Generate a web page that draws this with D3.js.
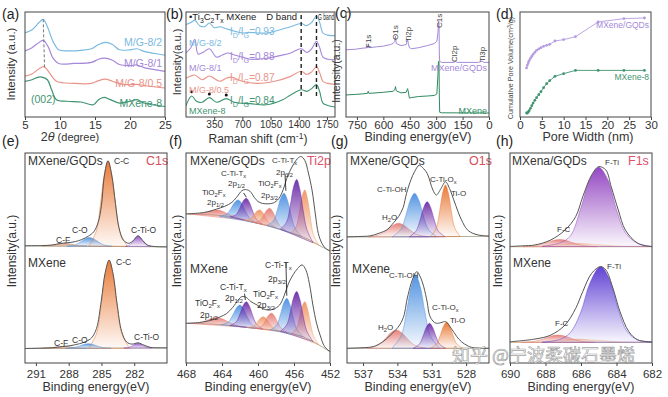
<!DOCTYPE html>
<html><head><meta charset="utf-8">
<script src="https://cdn.jsdelivr.net/npm/d3@7"></script>
<style>body{margin:0;background:#fff}svg{display:block}</style>
</head><body><div id="chart"></div>
<script>
const FONT = '"Liberation Sans", Arial, sans-serif';

// ---------- (a) XRD, [2theta, stacked intensity] ----------
const xrdMG82 = [[5,80],[6,83],[7,90],[7.6,93],[8.2,86],[9,72],[9.8,64],[11,63],[13,63.5],[14.5,65],[15.5,69],[16.5,71],[17.5,69],[18.5,64],[20,64],[21,65],[22,62.5],[25,59]];
const xrdMG81 = [[5,63],[6,66],[7,71],[7.6,73],[8.3,67],[9,56],[9.8,51],[12,51],[14.5,52],[15.5,55],[16.4,56],[17.5,54],[18.5,50],[20,49],[21,49.5],[22,47],[25,43.5]];
const xrdMG805 = [[5,39],[6,41],[7,46],[7.7,48],[8.5,42],[9.5,34],[12,32],[14.5,32],[15.5,34.6],[16.5,36],[17.5,34],[19,31],[21,31],[22,30],[25,27.6]];
const xrdMX8 = [[5,34],[6,35.5],[6.8,37.8],[7.4,38],[8.2,35.5],[8.8,26],[9.5,16.5],[11,15],[13,14.3],[14.8,11.7],[15.5,16.5],[16.3,18.7],[17.2,16.5],[18.5,13.3],[20,15],[21,16.5],[22,13.3],[25,10]];
const xrdTicks = [5,10,15,20,25];

// ---------- (b) Raman, [cm-1, stacked intensity] ----------
const ramMG82 = [[0,88],[60,90],[110,92],[170,87],[230,86],[290,89.5],[350,85],[420,86],[500,84],[570,82.5],[640,81],[700,80],[780,80.6],[900,80],[1000,80],[1100,81.6],[1200,83.8],[1300,86],[1430,89],[1500,87],[1560,90],[1620,96],[1660,90],[1700,80],[1760,78],[1850,77.5]];
const ramMG81 = [[0,61],[60,66],[110,74],[150,60],[220,62],[290,65],[380,57],[450,59],[520,61],[600,59],[700,57],[800,55],[1000,56],[1200,59],[1300,61],[1430,65],[1500,61.5],[1560,65],[1620,72],[1660,66],[1700,57],[1760,55],[1850,54.6]];
const ramMG805 = [[0,37],[60,39],[110,40],[200,35.5],[290,39],[420,34],[500,37],[560,38],[700,34],[900,32],[1100,34],[1300,38.7],[1430,43.5],[1500,40.5],[1560,43],[1620,48],[1660,42],[1700,34],[1760,32],[1850,31]];
const ramMX8 = [[0,10.8],[70,20],[130,15],[200,14],[290,18.5],[380,14],[500,17.5],[600,14],[800,12.7],[1000,11.7],[1200,16.5],[1300,21],[1430,26],[1500,24.4],[1560,27],[1620,30.8],[1660,24],[1700,13.3],[1760,11],[1850,9.5]];
const ramDots = [[70,24],[290,22],[500,21]];
const ramBands = [1430, 1620];
const ramRatios = ["0.93","0.88","0.87","0.84"];
const ramTicks = [350,700,1050,1400,1750];

// ---------- (c) XPS survey, [eV, stacked intensity] ----------
const svGQD = [[812,64],[760,64.5],[720,65.5],[690,66],[686,69],[682,66],[640,66.8],[600,67.5],[560,69],[545,70],[535,72],[531,77],[527,70],[500,68],[470,69],[462,74],[458,70],[452,66],[440,65],[400,66],[350,68],[310,70],[296,72],[290,80],[287,91],[284,91],[282,60],[280,53],[270,52],[200,52],[190,53],[180,52],[60,52],[40,53.2],[30,52],[0,52]];
const svMX = [[812,21],[760,21.5],[720,22],[690,22.5],[686,24.5],[682,22.5],[600,23.5],[545,24.5],[535,26],[531,29],[527,25],[500,23],[470,23.5],[462,27],[458,24],[452,18],[440,18.5],[400,19.5],[350,20],[310,20.5],[296,22],[290,40],[287,53],[284,53],[282,20],[280,4.5],[270,4],[0,3.8]];
const svLines = [["F1s",686,48],["O1s",531,40],["Ti2p",460,42],["C1s",285,28],["Cl2p",200,62],["Ti3p",37,62]];
const svTicks = [750,600,450,300,150,0];

// ---------- (d) pore volume ----------
const poreX = [1.5,1.7,1.9,2.1,2.4,2.7,3.0,3.4,3.8,4.3,4.8,5.4,6.1,6.8,8.0,10.0,12.7,17.9,23.8,28.5];
const poreGQD = [0.467,0.495,0.517,0.537,0.559,0.578,0.597,0.616,0.635,0.648,0.660,0.673,0.683,0.692,0.724,0.737,0.765,0.905,0.937,0.943];
const poreMX8 = [0.038,0.038,0.048,0.060,0.083,0.108,0.133,0.159,0.184,0.213,0.241,0.279,0.317,0.346,0.387,0.413,0.444,0.444,0.444,0.444];
const poreTicks = [0,5,10,15,20,25,30];

// ---------- (e) C1s ----------
const c1sTicks = [291,288,285,282];
const c1sTopEnv = [[292,55.8],[290.5,55.9],[289.5,56.2],[288.8,56.9],[288.2,57.2],[287.4,57.8],[286.8,58.8],[286.2,60.4],[285.7,62.5],[285.3,67],[285.0,75],[284.74,89],[284.4,96.3],[284.06,89.5],[283.72,76],[283.4,64.5],[283.0,58.5],[282.5,57],[282.1,58.2],[281.65,60.6],[281.2,58.2],[280.8,56.2],[280.2,55.5],[279,55.3]];
const c1sTopBg = [[292,55.8],[279,55.3]];
const c1sTopCC = [[286.17,55.6],[285.49,62.5],[285.08,76],[284.74,89.8],[284.4,96.3],[284.06,89.8],[283.72,76],[283.31,62.5],[282.63,55.6]];
const c1sTopCO = [[288.18,55.6],[287.38,56.3],[286.9,57.7],[286.5,59.1],[286.1,59.8],[285.7,59.1],[285.3,57.7],[284.82,56.3],[284.02,55.6]];
const c1sTopCF = [[290.48,55.7],[289.68,55.9],[289.2,56.35],[288.8,56.8],[288.4,57],[288,56.8],[287.6,56.35],[287.12,55.9],[286.32,55.7]];
const c1sTopCTiO = [[282.82,55.5],[282.37,56.35],[282.1,58],[281.87,59.7],[281.65,60.5],[281.43,59.7],[281.2,58],[280.93,56.35],[280.48,55.5]];
const c1sBotEnv = [[292,6.9],[290.5,7.1],[289.5,7.3],[288.6,7.8],[287.8,8.3],[287,9.2],[286.4,10.3],[285.9,12],[285.45,16.5],[285.02,29.5],[284.66,43],[284.3,49],[283.94,42.5],[283.58,28.5],[283.15,15],[282.7,10],[282.2,9],[281.65,9.6],[281.1,8.5],[280.5,7.4],[279.5,7.2],[279,7.2]];
const c1sBotBg = [[292,6.9],[279,7.2]];
const c1sBotCC = [[286.17,7],[285.45,14.1],[285.02,28],[284.66,42.3],[284.3,49],[283.94,42.3],[283.58,28],[283.15,14.1],[282.43,7]];
const c1sBotCO = [[288.28,7],[287.48,7.4],[287,8.1],[286.6,8.85],[286.2,9.2],[285.8,8.85],[285.4,8.1],[284.92,7.4],[284.12,7]];
const c1sBotCF = [[290.48,7],[289.68,7.15],[289.2,7.45],[288.8,7.75],[288.4,7.9],[288,7.75],[287.6,7.45],[287.12,7.15],[286.32,7]];
const c1sBotCTiO = [[282.95,7.1],[282.45,7.5],[282.15,8.25],[281.9,9.03],[281.65,9.4],[281.4,9.03],[281.15,8.25],[280.85,7.5],[280.35,7.1]];

// ---------- (f) Ti2p ----------
const ti2pTicks = [468,464,460,456,452];
const ti2pTopEnv = [[468,71],[466.5,71.4],[465.6,72],[464.6,73.3],[463.7,74.6],[462.9,76.5],[462.4,78.8],[461.8,82],[461.4,82.6],[460.9,81.8],[460.4,78.8],[460,76.9],[459.5,76],[458.9,75.8],[458.3,76.2],[457.7,78.2],[457.2,82.5],[456.8,88],[456.1,94.3],[455.5,97.8],[455.2,98.3],[454.8,96.5],[454.4,90.5],[454,82.4],[453.6,70],[453.3,61.7],[452.9,57],[452.5,54.6],[452,53.3]];
const ti2pTopBg = [[468,71],[465,70.5],[463,69.5],[461,67.5],[459,65.5],[457,63],[455,60],[454,58],[453,55.5],[452,53.5]];
const ti2pTop = [
  [[[467.62,70.9],[466.42,71.1],[465.7,71.9],[465.1,72.6],[464.5,72.9],[463.9,72.2],[463.3,70.9],[462.58,69.5],[461.38,68.0]], "salmon"],
  [[[464.28,69.9],[463.48,70.9],[463,73.6],[462.6,76.4],[462.2,77.6],[461.8,75.8],[461.4,72.4],[460.92,68.9],[460.12,66.6]], "blue"],
  [[[463.12,69.6],[462.42,70.7],[462,73.9],[461.65,77.1],[461.3,78.5],[460.95,76.4],[460.6,72.4],[460.18,68.5],[459.48,66]], "purple"],
  [[[461.62,68.1],[460.92,68.5],[460.5,70.3],[460.15,72.2],[459.8,72.9],[459.45,71.5],[459.1,68.9],[458.68,66.3],[457.98,64.5]], "peach"],
  [[[460.52,67],[459.82,67.75],[459.4,70.15],[459.05,72.6],[458.7,73.7],[458.35,71.9],[458,68.65],[457.58,65.35],[456.88,63]], "salmon"],
  [[[459.05,65.5],[458.3,67.7],[457.85,72.95],[457.475,78.5],[457.1,80.8],[456.725,77.5],[456.35,70.85],[455.9,64.3],[455.15,60.2]], "blue"],
  [[[456.36,62],[455.76,65],[455.4,72],[455.1,79.4],[454.8,82.4],[454.5,78.2],[454.2,69.8],[453.84,61],[453.24,56.1]], "peach"],
  [[[457.52,63.7],[456.82,67.2],[456.4,75.3],[456.05,83.8],[455.7,87.4],[455.35,82.7],[455,73.2],[454.58,63.7],[453.88,57.2]], "purple"]
];
const ti2pBotEnv = [[468,18.9],[466.5,19.3],[465.1,20.5],[464.2,22],[463.5,23.5],[462.8,26.5],[462.2,30],[461.8,31.6],[461.3,31.2],[460.8,29.3],[460.1,27.6],[459.4,25.8],[458.9,25.2],[458.3,25.6],[457.6,27.6],[457.1,32],[456.6,38],[456.1,42],[455.6,45],[455.1,46.7],[454.7,44.5],[454.3,38],[453.9,27.6],[453.5,19],[453.1,13.3],[452.6,7.8],[452,5.4]];
const ti2pBotBg = [[468,18.9],[465,18.5],[463,17.8],[461,16.8],[459,16],[457,14.8],[455,12.5],[454,10.5],[453,8],[452,5.4]];
const ti2pBot = [
  [[[467.62,18.85],[466.42,19.26],[465.7,20.25],[465.1,21.3],[464.5,21.6],[463.9,20.9],[463.3,19.55],[462.58,18.16],[461.38,17]], "salmon"],
  [[[464.08,18.2],[463.28,19.65],[462.8,22.85],[462.4,26.15],[462,27.6],[461.6,25.75],[461.2,22.05],[460.72,18.45],[459.92,16.4]], "blue"],
  [[[463.12,17.85],[462.42,19.6],[462,23.4],[461.65,27.35],[461.3,29.2],[460.95,27.05],[460.6,22.7],[460.18,18.6],[459.48,16.2]], "purple"],
  [[[461.22,16.9],[460.52,17.6],[460.1,19.3],[459.75,21.2],[459.4,22],[459.05,20.85],[458.7,18.7],[458.28,16.6],[457.58,15.15]], "peach"],
  [[[460.32,16.5],[459.62,17.55],[459.2,20],[458.85,22.6],[458.5,23.7],[458.15,22.2],[457.8,19.3],[457.38,16.35],[456.68,14.4]], "salmon"],
  [[[458.62,15.8],[457.92,18.15],[457.5,23.2],[457.15,28.5],[456.8,30.8],[456.45,27.8],[456.1,21.9],[455.68,16.05],[454.98,12.5]], "blue"],
  [[[456.36,13.9],[455.76,16.3],[455.4,21.45],[455.1,26.95],[454.8,29.2],[454.5,25.85],[454.2,19.45],[453.84,12.9],[453.24,8.6]], "peach"],
  [[[457.52,15.1],[456.82,18.1],[456.4,24.45],[456.05,31.1],[455.7,34],[455.35,30.3],[455,22.85],[454.58,15.2],[453.88,10.2]], "purple"]
];
// label pointer segments [eV, value] -> [eV, value]
const ti2pPointers = [[[461.6,81],[461.3,79]],[[457.0,90],[456.9,82]],[[461.5,33],[461.4,30]],[[456.9,48],[456.8,32]]];

// ---------- (g) O1s ----------
const o1sTicks = [537,534,531,528];
const o1sTopEnv = [[538.4,60.1],[537,60.3],[536.4,60.5],[535.6,61.8],[534.9,63.5],[534.3,67],[533.9,69.7],[533.5,74],[533.2,80.8],[532.8,87.5],[532.5,91.1],[532.1,94.2],[531.8,93],[531.4,90.3],[530.9,82.4],[530.6,80],[530.2,83],[529.8,86.3],[529.4,82.5],[529.1,78],[528.7,72],[528.4,68.1],[527.9,63.5],[527.3,61.5],[526.5,60.6],[526,60.5]];
const o1sTopBg = [[538.4,60],[526,60.3]];
const o1sTop = [
  [[[536.5,60.1],[535.5,61.2],[534.9,63.3],[534.4,65.5],[533.9,66.5],[533.4,65.5],[532.9,63.3],[532.3,61.2],[531.3,60.1]], "salmon"],
  [[[534.45,60.1],[533.7,63.6],[533.25,70.45],[532.875,77.5],[532.5,80.8],[532.125,77.5],[531.75,70.45],[531.3,63.6],[530.55,60.1]], "blue"],
  [[[532.96,60.1],[532.36,62.95],[532,68.45],[531.7,74.1],[531.4,76.8],[531.1,74.1],[530.8,68.45],[530.44,62.95],[529.84,60.1]], "purple"],
  [[[531.1,60.2],[530.6,64.4],[530.3,72.55],[530.05,80.95],[529.8,84.8],[529.55,80.95],[529.3,72.55],[529,64.4],[528.5,60.2]], "orange"]
];
const o1sBotEnv = [[538.4,7],[537,7.3],[536.1,7.8],[535.3,10],[534.6,13.3],[533.8,18.1],[533.4,23],[533.2,29.2],[532.9,36],[532.7,39.5],[532.3,43.5],[532,41],[531.7,36.3],[531.4,29],[531.2,22.9],[530.9,20],[530.6,18.9],[530.2,19.2],[529.8,19.7],[529.3,16.5],[528.8,12.5],[528.4,10.1],[527.9,8.3],[527.4,7.3],[526,7]];
const o1sBotBg = [[538.4,7],[526,7]];
const o1sBot = [
  [[[536.7,7],[535.7,8.5],[535.1,11.35],[534.6,14.3],[534.1,15.7],[533.6,14.3],[533.1,11.35],[532.5,8.5],[531.5,7]], "salmon"],
  [[[534.48,7],[533.68,12.9],[533.2,24.45],[532.8,36.3],[532.4,41.9],[532,36.3],[531.6,24.45],[531.12,12.9],[530.32,7]], "blue"],
  [[[532.63,7],[532.08,9],[531.75,12.95],[531.475,17],[531.2,18.9],[530.925,17],[530.65,12.95],[530.32,9],[529.77,7]], "purple"],
  [[[531.13,7],[530.58,9.1],[530.25,13.25],[529.975,17.5],[529.7,19.5],[529.425,17.5],[529.15,13.25],[528.82,9.1],[528.27,7]], "orange"]
];

// ---------- (h) F1s ----------
const f1sTicks = [690,688,686,684,682];
const f1sTopEnv = [[690,55.5],[689.3,55.8],[688.6,56.2],[687.7,58.6],[686.9,63.3],[686.3,69.7],[685.9,79.2],[685.4,89.5],[685.0,93.5],[684.6,91.9],[684.3,84],[683.9,72.9],[683.5,63.3],[682.8,57],[682,55.4]];
const f1sTopBg = [[690,55.4],[682,55.4]];
const f1sTop = [
  [[[690,55.4],[688.6,55.6],[687.7,56.2],[686.9,56.6],[686.2,57],[685.5,56.6],[684.7,56.2],[683.8,55.6],[682.3,55.4]], "cream"],
  [[[689.28,55.4],[688.48,56],[688,57.1],[687.6,58.25],[687.2,58.8],[686.8,58.25],[686.4,57.1],[685.92,56],[685.12,55.4]], "salmon"],
  [[[688.2,55.5],[687.2,57.2],[686.6,60.5],[686.0,74],[685.5,87.5],[685.0,93.2],[684.5,87.5],[684.0,73],[683.5,62],[682.8,57],[682,55.5]], "mauve"]
];
const f1sBotEnv = [[690,10.1],[688.6,11.4],[687.7,13.3],[686.9,18.1],[686.3,26],[685.9,34],[685.4,42.7],[684.9,45.9],[684.6,44.3],[684.2,35.6],[683.8,24.4],[683.3,14.9],[682.8,11],[682,10.1]];
const f1sBotBg = [[690,9.8],[682,9.8]];
const f1sBot = [
  [[[690,9.8],[688.6,10],[687.7,10.6],[686.9,11],[686.2,11.4],[685.5,11],[684.7,10.6],[683.8,10],[682.3,9.8]], "cream"],
  [[[689.38,9.8],[688.58,10.4],[688.1,11.55],[687.7,12.75],[687.3,13.3],[686.9,12.75],[686.5,11.55],[686.02,10.4],[685.22,9.8]], "salmon"],
  [[[688.2,9.9],[687.2,11.2],[686.6,14.5],[686.0,24.5],[685.5,38],[684.9,45.9],[684.4,40],[683.9,25.5],[683.4,15],[682.8,11],[682,9.9]], "violet"]
];

// ---------- drawing ----------
const COL = {
  orange: "#e8742f", blue: "#4a8fe0", purple: "#6a2aa6", salmon: "#e57a72",
  peach: "#ef9460", cream: "#f2c49a", mauve: "#8f3fbf", violet: "#5a3ad2",
  brown: "#c9805a", lilac: "#8d4cc2"
};
const svg = d3.select("#chart").append("svg")
  .attr("width", 668).attr("height", 397)
  .style("font-family", FONT);
const defs = svg.append("defs");
Object.entries(COL).forEach(([k, c]) => {
  const gr = defs.append("linearGradient").attr("id", "g-" + k)
    .attr("x1", 0).attr("y1", 0).attr("x2", 0).attr("y2", 1);
  gr.append("stop").attr("offset", "0%").attr("stop-color", c).attr("stop-opacity", 0.95);
  gr.append("stop").attr("offset", "100%").attr("stop-color", c).attr("stop-opacity", 0.04);
});

// text with _x / ^x / _{..} sub- and superscripts
function rich(g, x, y, str, o = {}) {
  const size = o.size || 9;
  const t = g.append("text").attr("x", x).attr("y", y)
    .attr("font-size", size).attr("fill", o.color || "#333")
    .attr("text-anchor", o.anchor || "start");
  if (o.rotate) t.attr("transform", `rotate(-90,${x},${y})`);
  let shift = 0;
  str.split(/(_\{[^}]*\}|\^\{[^}]*\}|_[^{]|\^[^{])/).forEach(tok => {
    if (!tok) return;
    let s = 0, txt = tok;
    if (tok[0] === "_" || tok[0] === "^") {
      s = tok[0] === "_" ? size * 0.28 : -size * 0.3;
      txt = tok[1] === "{" ? tok.slice(2, -1) : tok.slice(1);
    }
    const ts = t.append("tspan").text(txt).attr("dy", s - shift);
    if (s) ts.attr("font-size", size * 0.72);
    shift = s;
  });
  return t;
}

function makePanel(name, box, xDom, yDom) {
  const x = d3.scaleLinear().domain(xDom).range([box.l, box.r]);
  const y = d3.scaleLinear().domain(yDom).range([box.b, box.t]);
  defs.append("clipPath").attr("id", "clip-" + name).append("rect")
    .attr("x", box.l).attr("y", box.t).attr("width", box.r - box.l).attr("height", box.b - box.t);
  const g = svg.append("g");
  const plot = g.append("g").attr("clip-path", `url(#clip-${name})`);
  const line = d3.line().x(d => x(d[0])).y(d => y(d[1])).curve(d3.curveCatmullRom);
  return { g, plot, x, y, box, line };
}

function finish(p, ticks, pad, tickSize = 11.5) {
  p.g.append("rect").attr("x", p.box.l).attr("y", p.box.t)
    .attr("width", p.box.r - p.box.l).attr("height", p.box.b - p.box.t)
    .attr("fill", "none").attr("stroke", "#444").attr("stroke-width", 1);
  const ax = p.g.append("g").attr("transform", `translate(0,${p.box.b})`)
    .call(d3.axisBottom(p.x).tickValues(ticks).tickSize(3).tickPadding(pad).tickFormat(d3.format("d")));
  ax.attr("font-family", FONT);
  ax.select(".domain").remove();
  ax.selectAll("line").attr("stroke", "#444");
  ax.selectAll("text").attr("font-size", tickSize).attr("fill", "#333");
}

function curve(p, pts, color, w = 1) {
  p.plot.append("path").attr("d", p.line(pts)).attr("fill", "none")
    .attr("stroke", color).attr("stroke-width", w);
}

function peaks(p, list) {
  list.forEach(([pts, key]) => {
    p.plot.append("path").attr("d", p.line(pts) + "Z")
      .attr("fill", `url(#g-${key})`).attr("stroke", COL[key])
      .attr("stroke-width", 0.6).attr("stroke-opacity", 0.8);
  });
}

function spectrum(p, bg, comps, env) {
  curve(p, bg, "#9a9a80", 0.8);
  peaks(p, comps);
  curve(p, env, "#555", 1);
}

// panel letters
[["(a)", 2, 19], ["(b)", 166, 19], ["(c)", 335, 18], ["(d)", 496, 19],
 ["(e)", 2, 146], ["(f)", 169, 146], ["(g)", 331, 146], ["(h)", 496, 146]]
  .forEach(([s, x, y]) => svg.append("text").attr("x", x).attr("y", y)
    .attr("font-size", 14).attr("fill", "#222").text(s));

// ---- (a) ----
const pa = makePanel("a", { l: 25, r: 165, t: 12, b: 117 }, [5, 25], [0, 100]);
[[xrdMG82, "#79b9df"], [xrdMG81, "#a688d9"], [xrdMG805, "#e9948a"], [xrdMX8, "#3f9471"]]
  .forEach(([d, c]) => curve(pa, d, c, 1.2));
pa.plot.append("line").attr("x1", pa.x(7.6)).attr("y1", pa.y(93)).attr("x2", pa.x(7.8)).attr("y2", pa.y(47))
  .attr("stroke", "#777").attr("stroke-dasharray", "3,2");
[["M/G-8/2", 46, "#79b9df"], ["M/G-8/1", 67, "#a688d9"], ["M/G-8/0.5", 87, "#e9948a"], ["MXene-8", 107, "#3f9471"]]
  .forEach(([s, y, c]) => rich(pa.g, 162, y, s, { size: 10.5, color: c, anchor: "end" }));
rich(pa.g, 31, 103, "(002)", { size: 10.5, color: "#3f9471" });
finish(pa, xrdTicks, 1);
rich(svg, 15, 64, "Intensity (a.u.)", { size: 11.5, rotate: true, anchor: "middle" });
const ta = svg.append("text").attr("x", 70).attr("y", 141).attr("text-anchor", "middle")
  .attr("font-size", 12.5).attr("fill", "#333");
ta.append("tspan").text("2");
ta.append("tspan").text("θ").attr("font-style", "italic");
ta.append("tspan").text(" (degree)").attr("font-size", 11);

// ---- (b) ----
const pb = makePanel("b", { l: 186, r: 335, t: 12, b: 117 }, [0, 1850], [0, 100]);
[[ramMG82, "#79b9df"], [ramMG81, "#a688d9"], [ramMG805, "#e9948a"], [ramMX8, "#3f9471"]]
  .forEach(([d, c]) => curve(pb, d, c, 1.1));
ramBands.forEach(b => pb.plot.append("line").attr("x1", pb.x(b)).attr("x2", pb.x(b))
  .attr("y1", 15).attr("y2", 96).attr("stroke", "#222").attr("stroke-width", 1.4).attr("stroke-dasharray", "4,3"));
pb.plot.selectAll("circle.rd").data(ramDots).join("circle").attr("class", "rd")
  .attr("cx", d => pb.x(d[0])).attr("cy", d => pb.y(d[1])).attr("r", 1.5).attr("fill", "#111");
rich(pb.g, 189, 20, "\u2022Ti_3C_2T_x MXene", { size: 9.5, color: "#222" });
rich(pb.g, 297, 20, "D band", { size: 9.5, color: "#222", anchor: "end" });
// narrow "G band" squeezed between the G line and the frame edge
pb.g.append("g").attr("transform", "translate(318,20) scale(0.55,1)")
  .append("text").attr("font-size", 9).attr("fill", "#222").text("G band");
[["M/G-8/2", 46, "#79b9df"], ["M/G-8/1", 71, "#a688d9"], ["M/G-8/0.5", 93, "#e9948a"], ["MXene-8", 114, "#3f9471"]]
  .forEach(([s, y, c]) => rich(pb.g, 189, y, s, { size: 9, color: c }));
[[35, "#79b9df"], [60, "#a688d9"], [81, "#e9948a"], [104, "#3f9471"]]
  .forEach(([y, c], i) => rich(pb.g, 230, y, "I_D/I_G=" + ramRatios[i], { size: 10, color: c }));
finish(pb, ramTicks, 1, 10);
rich(svg, 181, 62, "Intensity(a.u.)", { size: 11, rotate: true, anchor: "middle" });
rich(svg, 258, 143, "Raman shift (cm^{-1})", { size: 12, anchor: "middle" });

// ---- (c) ----
const pc = makePanel("c", { l: 346, r: 489, t: 12, b: 117 }, [812, 0], [0, 100]);
pc.line.curve(d3.curveLinear);
curve(pc, svGQD, "#a58ad8", 1);
curve(pc, svMX, "#2f8a60", 1);
svLines.forEach(([s, e, y]) => rich(pc.g, pc.x(e) + 3, y, s, { size: 8, rotate: true, color: "#444" }));
rich(pc.g, 487, 71, "MXene/GQDs", { size: 9, color: "#a58ad8", anchor: "end" });
rich(pc.g, 487, 114, "MXene", { size: 9, color: "#2f8a60", anchor: "end" });
finish(pc, svTicks, 1);
rich(svg, 340, 71, "Intensity(a.u.)", { size: 10.5, rotate: true, anchor: "middle" });
rich(svg, 418, 141, "Binding energy(eV)", { size: 12.5, anchor: "middle" });

// ---- (d) ----
const pd = makePanel("d", { l: 520, r: 651, t: 12, b: 117 }, [0, 30], [0, 1]);
pd.line.curve(d3.curveLinear);
[[poreGQD, "#b49be0"], [poreMX8, "#3f9471"]].forEach(([vals, c]) => {
  const pts = poreX.map((v, i) => [v, vals[i]]);
  curve(pd, pts, c, 0.9);
  pd.plot.selectAll(null).data(pts).join("circle")
    .attr("cx", d => pd.x(d[0])).attr("cy", d => pd.y(d[1])).attr("r", 1.4).attr("fill", c);
});
rich(pd.g, 649, 28, "MXene/GQDs", { size: 8.5, color: "#a58ad8", anchor: "end" });
rich(pd.g, 649, 80, "MXene-8", { size: 8.5, color: "#3f9471", anchor: "end" });
finish(pd, poreTicks, 1);
rich(svg, 513, 68, "Cumulative Pore Volume(cm^3/g)", { size: 7.2, rotate: true, anchor: "middle", color: "#444" });
rich(svg, 588, 141, "Pore Width (nm)", { size: 12.5, anchor: "middle" });

// ---- (e) C1s ----
const pe = makePanel("e", { l: 25, r: 167, t: 153, b: 363 }, [292, 279], [0, 100]);
spectrum(pe, c1sTopBg, [[c1sTopCF, "brown"], [c1sTopCO, "blue"], [c1sTopCC, "orange"], [c1sTopCTiO, "lilac"]], c1sTopEnv);
spectrum(pe, c1sBotBg, [[c1sBotCF, "brown"], [c1sBotCO, "blue"], [c1sBotCC, "orange"], [c1sBotCTiO, "lilac"]], c1sBotEnv);
rich(pe.g, 28, 165, "MXene/GQDs", { size: 12 });
rich(pe.g, 146, 165, "C1s", { size: 12.5, color: "#d6505a" });
[["C-C", 114, 164], ["C-O", 72, 233], ["C-F", 56, 243], ["C-Ti-O", 131, 233],
 ["C-C", 116, 265], ["C-F", 54, 346], ["C-O", 72, 343], ["C-Ti-O", 134, 340]]
  .forEach(([s, x, y]) => rich(pe.g, x, y, s, { size: 8.5 }));
rich(pe.g, 28, 267, "MXene", { size: 12 });
finish(pe, c1sTicks, 4);
rich(svg, 16, 251, "Intensity(a.u.)", { size: 12, rotate: true, anchor: "middle" });
rich(svg, 96, 391, "Binding energy(eV)", { size: 12.5, anchor: "middle" });

// ---- (f) Ti2p ----
const pf = makePanel("f", { l: 186, r: 330, t: 153, b: 363 }, [468, 452], [0, 100]);
spectrum(pf, ti2pTopBg, ti2pTop, ti2pTopEnv);
spectrum(pf, ti2pBotBg, ti2pBot, ti2pBotEnv);
ti2pPointers.forEach(([a, b]) => pf.plot.append("line")
  .attr("x1", pf.x(a[0])).attr("y1", pf.y(a[1])).attr("x2", pf.x(b[0])).attr("y2", pf.y(b[1]))
  .attr("stroke", "#111").attr("stroke-width", 0.8));
rich(pf.g, 190, 165, "MXene/GQDs", { size: 12 });
rich(pf.g, 307, 165, "Ti2p", { size: 12.5, color: "#e0506a" });
[["C-Ti-T_x", 272, 163], ["2p_{3/2}", 276, 175], ["C-Ti-T_x", 221, 176], ["2p_{1/2}", 228, 186],
 ["TiO_2F_x", 202, 195], ["2p_{1/2}", 207, 205], ["TiO_2F_x", 258, 186], ["2p_{3/2}", 261, 198]]
  .forEach(([s, x, y]) => rich(pf.g, x, y, s, { size: 8 }));
rich(pf.g, 190, 273, "MXene", { size: 12 });
[["C-Ti-T_x", 265, 268], ["2p_{3/2}", 268, 282], ["C-Ti-T_x", 220, 290], ["2p_{1/2}", 225, 301],
 ["TiO_2F_x", 195, 306], ["2p_{1/2}", 200, 318], ["TiO_2F_x", 253, 297], ["2p_{3/2}", 257, 308]]
  .forEach(([s, x, y]) => rich(pf.g, x, y, s, { size: 8.5 }));
finish(pf, ti2pTicks, 4);
rich(svg, 181, 251, "Intensity(a.u.)", { size: 12, rotate: true, anchor: "middle" });
rich(svg, 258, 391, "Binding energy(eV)", { size: 12.5, anchor: "middle" });

// ---- (g) O1s ----
const pg = makePanel("g", { l: 347, r: 489, t: 153, b: 363 }, [538.4, 526], [0, 100]);
spectrum(pg, o1sTopBg, o1sTop, o1sTopEnv);
spectrum(pg, o1sBotBg, o1sBot, o1sBotEnv);
rich(pg.g, 350, 165, "MXene/GQDs", { size: 12 });
rich(pg.g, 469, 165, "O1s", { size: 12.5, color: "#d6505a" });
[["C-Ti-OH", 377, 192], ["C-Ti-O_x", 430, 182], ["Ti-O", 451, 196], ["H_2O", 382, 220],
 ["C-Ti-OH", 389, 278], ["C-Ti-O_x", 432, 310], ["Ti-O", 450, 323], ["H_2O", 378, 330]]
  .forEach(([s, x, y]) => rich(pg.g, x, y, s, { size: 8 }));
rich(pg.g, 352, 273, "MXene", { size: 12 });
finish(pg, o1sTicks, 4);
rich(svg, 340, 251, "Intensity(a.u.)", { size: 12, rotate: true, anchor: "middle" });
rich(svg, 418, 391, "Binding energy(eV)", { size: 12.5, anchor: "middle" });

// ---- (h) F1s ----
const ph = makePanel("h", { l: 510, r: 652, t: 153, b: 363 }, [690, 682], [0, 100]);
spectrum(ph, f1sTopBg, f1sTop, f1sTopEnv);
spectrum(ph, f1sBotBg, f1sBot, f1sBotEnv);
rich(ph.g, 512, 165, "MXena/GQDs", { size: 12 });
rich(ph.g, 628, 165, "F1s", { size: 12.5, color: "#e0506a" });
[["F-Ti", 605, 165], ["F-C", 557, 232], ["F-Ti", 607, 269], ["F-C", 555, 326]]
  .forEach(([s, x, y]) => rich(ph.g, x, y, s, { size: 8 }));
rich(ph.g, 513, 267, "MXene", { size: 12 });
finish(ph, f1sTicks, 4);
rich(svg, 502, 251, "Intensity(a.u.)", { size: 12, rotate: true, anchor: "middle" });
rich(svg, 581, 391, "Binding energy(eV)", { size: 12.5, anchor: "middle" });

// watermark
svg.append("text").attr("x", 452).attr("y", 362).text("知乎 @宁波柔碳石墨烯")
  .attr("font-family", '"Noto Sans CJK SC", sans-serif').attr("font-size", 18)
  .attr("fill", "#fff").attr("fill-opacity", 0.8)
  .attr("stroke", "#777").attr("stroke-width", 0.7).attr("stroke-opacity", 0.7);
</script>
</body></html>
